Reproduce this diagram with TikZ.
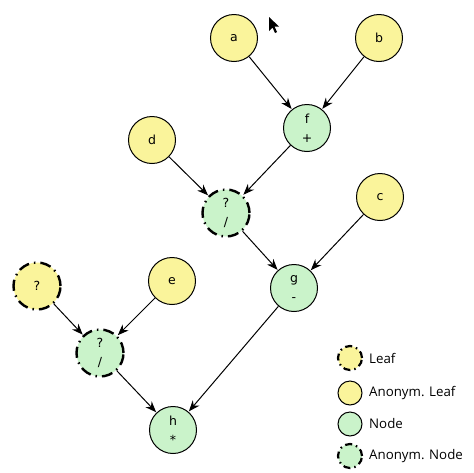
\documentclass[tikz,border=0pt]{standalone}
\usepackage{fontspec}
\setmainfont{DejaVu Sans}
\newfontfamily\legfont{Open Sans}
\usetikzlibrary{arrows.meta}
\definecolor{leafy}{HTML}{FAF49B}
\definecolor{nodeg}{HTML}{CAF3CA}
\begin{document}
\begin{tikzpicture}[x=1pt,y=-1pt,
  base/.style={circle, minimum size=47pt, inner sep=0pt, font=\fontsize{12.5}{19}\selectfont, align=center, draw=black},
  solidline/.style={line width=1pt},
  dashdotline/.style={line width=2.4pt, dash pattern=on 11pt off 5pt on 1.5pt off 5pt},
  anonleaf/.style={base, fill=leafy, solidline},
  leafnode/.style={base, fill=leafy, dashdotline},
  plainnode/.style={base, fill=nodeg, solidline},
  anonnode/.style={base, fill=nodeg, dashdotline},
  legcirc/.style={circle, minimum size=24pt, inner sep=0pt, draw=black},
  legdash/.style={line width=2.2pt, dash pattern=on 7pt off 4pt on 1.5pt off 4pt},
  legtext/.style={anchor=west, font=\legfont\fontsize{13.3}{15}\selectfont, inner sep=0pt},
  arr/.style={-{Stealth[length=11pt,width=8.5pt]}, line width=1pt, shorten >=0.5pt}
]
\useasboundingbox (0,0) rectangle (474,472);

\node[anonleaf] (a) at (234,38) {a};
\node[anonleaf] (b) at (379,38) {b};
\node[plainnode] (f) at (307,128) {f\\+};
\node[anonleaf] (d) at (152,140) {d};
\node[anonnode] (q1) at (226,213) {?\\/};
\node[anonleaf] (c) at (380,197) {c};
\node[plainnode] (g) at (294,288) {g\\-};
\node[leafnode] (l) at (37,286) {?};
\node[anonleaf] (e) at (172,281) {e};
\node[anonnode] (q2) at (100,353) {?\\/};
\node[plainnode] (h) at (173,430) {h\\*};

\draw[arr] (a) -- (f);
\draw[arr] (b) -- (f);
\draw[arr] (f) -- (q1);
\draw[arr] (d) -- (q1);
\draw[arr] (q1) -- (g);
\draw[arr] (c) -- (g);
\draw[arr] (l) -- (q2);
\draw[arr] (e) -- (q2);
\draw[arr] (q2) -- (h);
\draw[arr] (g) -- (h);

% legend
\node[legcirc, fill=leafy, legdash] (k1) at (350,358) {};
\node[legtext] (t1) at (369,358) {Leaf};
\node[legcirc, fill=leafy, solidline] (k2) at (350,393) {};
\node[legtext] (t2) at (369,393) {Anonym. Leaf};
\node[legcirc, fill=nodeg, solidline] (k3) at (350,424) {};
\node[legtext] (t3) at (369,424) {Node};
\node[legcirc, fill=nodeg, legdash] (k4) at (350,456) {};
\node[legtext] (t4) at (369,456) {Anonym. Node};

% mouse pointer
\fill[black] (269,17) -- (269,31) -- (272.5,27.5) -- (275,33) -- (277,32) -- (274.5,26.5) -- (279,26.5) -- cycle;
\end{tikzpicture}
\end{document}
